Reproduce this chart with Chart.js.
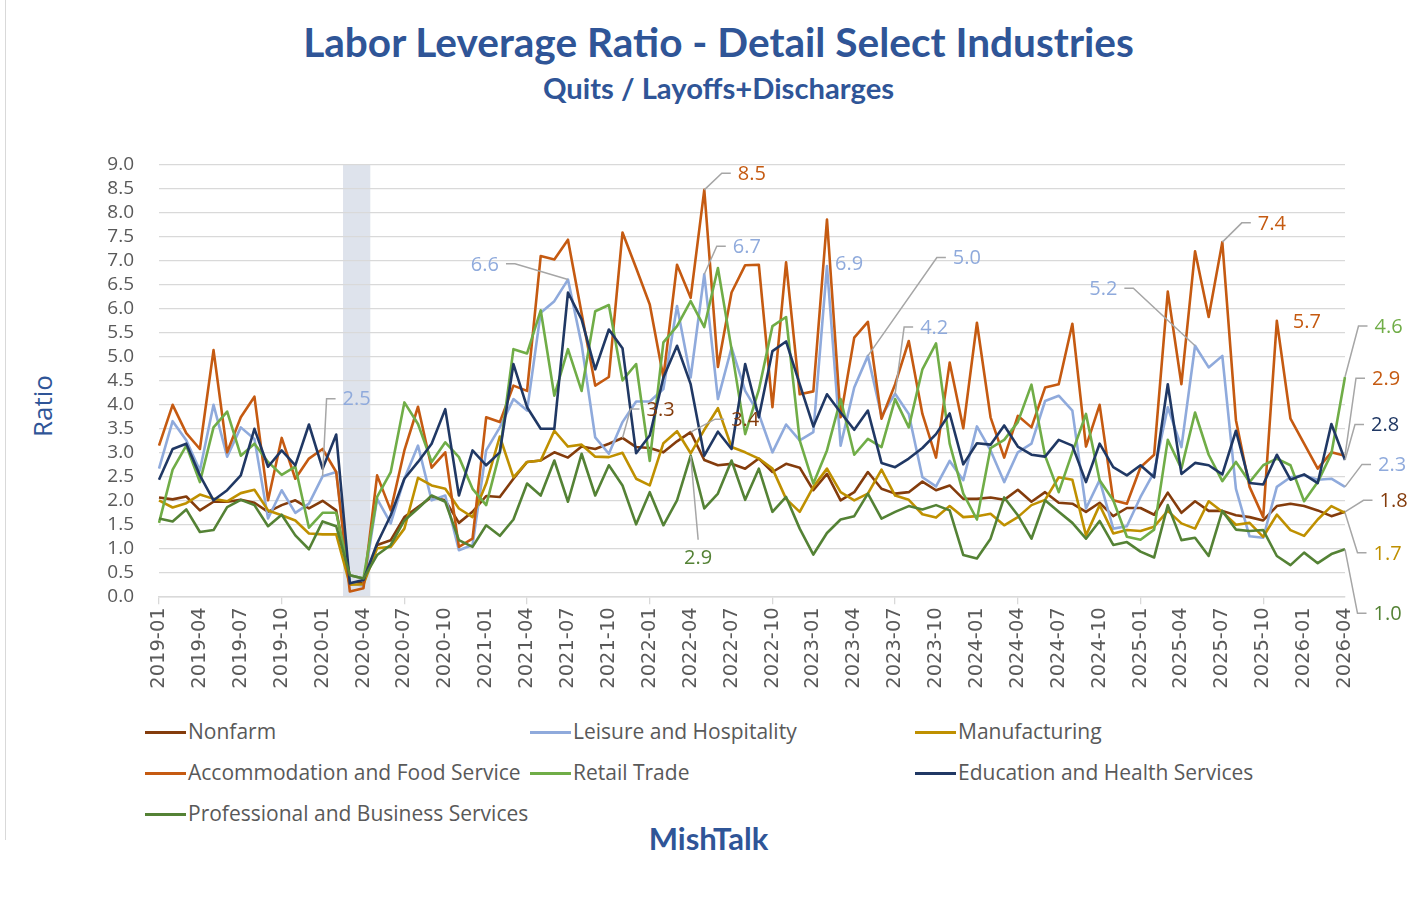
<!DOCTYPE html>
<html>
<head>
<meta charset="utf-8">
<script src="https://cdn.jsdelivr.net/npm/chart.js@4.4.0/dist/chart.umd.min.js"></script>
<style>
  body { margin: 0; background: #fff; }
  #wrap { position: relative; width: 1417px; height: 904px; overflow: hidden; font-family: "Open Sans", sans-serif; }
  #sheet { position: absolute; left: 5px; top: 0; width: 1px; height: 840px; background: #d9d9d9; }
  .title { position: absolute; left: 10px; width: 1417px; text-align: center; color: #2F5597; font-family: Lato, "Open Sans", sans-serif; font-weight: bold; }
  #t1 { top: 20px; line-height: 44px; font-size: 40.6px; }
  #t2 { top: 72px; line-height: 32px; font-size: 29.2px; }
  #ratio { position: absolute; left: 42px; top: 406px; transform: translate(-50%, -50%) rotate(-90deg); color: #2F5597; font-size: 26px; white-space: nowrap; }
  #box { position: absolute; left: 0; top: 128px; width: 1417px; height: 572px; }
  .leg { position: absolute; height: 30px; line-height: 30px; font-size: 21px; color: #595959; white-space: nowrap; }
  .leg span { display: inline-block; width: 41px; height: 3px; vertical-align: middle; margin-right: 2px; position: relative; top: -1px; }
  #mish { position: absolute; left: 0; width: 1417px; top: 820px; line-height: 36px; text-align: center; color: #2F5597; font-family: Lato, "Open Sans", sans-serif; font-weight: bold; font-size: 31px; }
</style>
</head>
<body>
<div id="wrap">
  <div id="sheet"></div>
  <div class="title" id="t1">Labor Leverage Ratio - Detail Select Industries</div>
  <div class="title" id="t2">Quits / Layoffs+Discharges</div>
  <div id="ratio">Ratio</div>
  <div id="box"><canvas id="chart"></canvas></div>
  <div id="legend"></div>
  <div id="mish">MishTalk</div>
</div>
<script>
// monthly categories 2019-01 .. 2026-04
const months = [];
for (let y = 2019; y <= 2026; y++) {
  for (let m = 1; m <= 12; m++) {
    if (y === 2026 && m > 4) break;
    months.push(y + '-' + String(m).padStart(2, '0'));
  }
}

const nonfarm = [2.06,2.02,2.08,1.79,1.97,1.97,2.01,1.95,1.76,1.9,2.0,1.83,1.99,1.79,0.27,0.28,
  1.07,1.17,1.65,1.86,2.07,2.0,1.53,1.76,2.09,2.07,2.45,2.8,2.83,3.0,
  2.89,3.12,3.07,3.18,3.3,3.11,3.09,3.0,3.23,3.42,2.84,2.73,2.76,2.66,2.87,
  2.59,2.76,2.68,2.21,2.55,2.0,2.17,2.59,2.24,2.14,2.17,2.39,2.21,2.31,
  2.03,2.03,2.06,2.01,2.22,1.97,2.17,1.95,1.93,1.76,1.95,1.67,1.84,1.84,1.7,
  2.16,1.74,1.98,1.78,1.78,1.69,1.65,1.58,1.88,1.93,1.88,1.79,1.67,1.76];

const leisure = [2.66,3.65,3.25,2.62,3.99,2.91,3.52,3.28,1.62,2.21,1.74,1.93,2.5,2.59,0.27,0.22,
  2.03,1.52,2.45,3.14,2.0,2.1,0.96,1.07,3.04,3.52,4.11,3.87,5.91,6.15,
  6.6,5.25,3.31,2.97,3.63,4.06,4.06,4.32,6.05,4.56,6.71,4.11,5.18,4.28,3.8,
  3.0,3.58,3.25,3.42,6.88,3.14,4.35,5.01,3.76,4.22,3.8,2.48,2.29,2.82,
  2.42,3.54,3.04,2.38,3.0,3.18,4.07,4.18,3.87,1.83,2.42,1.41,1.46,2.07,2.59,
  3.94,3.11,5.22,4.77,5.01,2.24,1.25,1.22,2.28,2.48,2.52,2.43,2.45,2.28];

const manufacturing = [2.0,1.85,1.94,2.12,2.03,1.98,2.15,2.22,1.79,1.69,1.58,1.31,1.29,1.29,0.24,0.25,
  1.0,1.03,1.41,2.47,2.31,2.24,1.83,1.65,2.35,3.33,2.48,2.8,2.83,3.45,
  3.12,3.16,2.91,2.9,2.99,2.45,2.31,3.19,3.44,2.98,3.47,3.92,3.11,3.0,2.87,
  2.66,2.03,1.76,2.28,2.66,2.17,2.0,2.14,2.64,2.1,2.01,1.71,1.64,1.88,
  1.65,1.67,1.72,1.48,1.65,1.9,2.01,2.48,2.43,1.27,1.9,1.31,1.38,1.36,1.45,
  1.78,1.52,1.41,1.98,1.76,1.49,1.53,1.24,1.7,1.38,1.26,1.6,1.88,1.74];

const accommodation = [3.14,3.99,3.4,3.07,5.13,3.0,3.73,4.16,2.0,3.3,2.45,2.87,3.07,2.59,0.1,0.17,
  2.52,1.79,3.04,3.95,2.68,3.0,1.03,1.2,3.73,3.63,4.39,4.28,7.09,7.02,
  7.43,5.9,4.39,4.57,7.58,6.84,6.08,4.56,6.91,6.22,8.47,4.78,6.33,6.9,6.91,
  3.94,6.96,4.21,4.27,7.85,3.73,5.39,5.72,3.7,4.42,5.32,3.8,2.89,4.87,
  3.5,5.7,3.73,2.89,3.76,3.52,4.35,4.42,5.68,3.12,3.99,2.0,1.93,2.69,2.95,
  6.35,4.42,7.19,5.82,7.38,3.67,2.28,1.65,5.74,3.7,3.18,2.66,3.0,2.93];

const retail = [1.53,2.64,3.14,2.38,3.52,3.85,2.93,3.18,2.8,2.53,2.7,1.43,1.74,1.74,0.44,0.37,
  2.07,2.59,4.04,3.59,2.8,3.21,2.9,2.24,1.9,3.0,5.15,5.06,5.96,4.18,
  5.15,4.28,5.94,6.07,4.5,4.84,2.82,5.29,5.63,6.15,5.61,6.84,5.15,3.38,4.3,
  5.63,5.82,3.25,2.35,3.04,4.11,2.95,3.28,3.11,4.11,3.52,4.73,5.27,3.18,
  2.14,1.6,3.09,3.26,3.63,4.41,2.93,2.17,3.0,3.8,2.42,2.0,1.24,1.18,1.39,
  3.26,2.66,3.83,2.95,2.4,2.8,2.38,2.73,2.87,2.73,1.98,2.38,2.97,4.57];

const education = [2.43,3.07,3.18,2.52,2.0,2.21,2.52,3.49,2.7,3.04,2.73,3.58,2.66,3.37,0.27,0.34,
  1.1,1.69,2.45,2.8,3.18,3.9,2.1,3.04,2.73,3.0,4.84,3.94,3.49,3.49,
  6.33,5.77,4.73,5.56,5.17,2.98,3.35,4.56,5.22,4.42,2.93,3.43,3.07,4.84,3.73,
  5.11,5.31,4.42,3.54,4.21,3.83,3.47,3.87,2.78,2.69,2.87,3.09,3.38,3.81,
  2.75,3.19,3.16,3.56,3.12,2.95,2.91,3.26,3.14,2.38,3.18,2.69,2.52,2.73,2.48,
  4.42,2.55,2.78,2.73,2.54,3.45,2.36,2.33,2.95,2.43,2.54,2.36,3.59,2.84];

const professional = [1.62,1.56,1.81,1.34,1.38,1.86,2.01,1.9,1.46,1.7,1.27,0.98,1.56,1.46,0.44,0.37,
  0.86,1.07,1.58,1.83,2.1,1.97,1.17,1.03,1.48,1.26,1.6,2.35,2.1,2.83,
  1.97,2.97,2.1,2.73,2.31,1.5,2.17,1.48,2.0,2.93,1.83,2.14,2.83,2.01,2.66,
  1.76,2.07,1.41,0.87,1.32,1.6,1.67,2.14,1.62,1.76,1.88,1.81,1.9,1.79,
  0.86,0.79,1.2,2.06,1.69,1.2,2.0,1.76,1.53,1.2,1.57,1.07,1.13,0.93,0.81,
  1.9,1.17,1.22,0.84,1.78,1.39,1.36,1.38,0.84,0.65,0.91,0.69,0.88,0.98];

const seriesNames = ['Nonfarm', 'Leisure and Hospitality', 'Manufacturing',
  'Accommodation and Food Service', 'Retail Trade', 'Education and Health Services',
  'Professional and Business Services'];
const seriesData = [nonfarm, leisure, manufacturing, accommodation, retail, education, professional];
const seriesColors = ['#843C0C', '#8FAADC', '#BF9000', '#C55A11', '#70AD47', '#203864', '#548235'];

// recession shading: 2020-03 .. 2020-04
const shadeFrom = '2020-03';
const shadeTo = '2020-04';

// callouts: [dataset, month, elbow dx, elbow dy, side]  side 1 = right, -1 = left, 0 = below, null = no leader
const callouts = [
  [1, '2020-01', 4, -77.6, 1],
  [1, '2021-07', -53, -15.7, -1],
  [3, '2022-05', 17.5, -16.6, 1],
  [1, '2022-05', 12.5, -28, 1],
  [0, '2021-11', 8, -29, 1],
  [0, '2022-04', 24.5, -13, 1],
  [6, '2022-04', 7.5, 84, 0],
  [1, '2023-02', 8, -2, null],
  [1, '2023-05', 69, -98.3, 1],
  [1, '2023-07', 9, -66.7, 1],
  [1, '2025-05', -61.7, -57.6, -1],
  [3, '2025-07', 19.5, -19.3, 1],
  [3, '2025-11', 16, 1, null],
  [4, '2026-04', 13.5, -51, 1],
  [3, '2026-04', 11, -77.5, 1],
  [5, '2026-04', 10, -35.5, 1],
  [1, '2026-04', 17, -22.5, 1],
  [0, '2026-04', 18.5, -11.5, 1],
  [2, '2026-04', 12.5, 40, 1],
  [6, '2026-04', 12.5, 64, 1]
];

const shadePlugin = {
  id: 'shade',
  beforeDraw(chart) {
    const x = chart.scales.x, area = chart.chartArea, ctx = chart.ctx;
    const i0 = months.indexOf(shadeFrom), i1 = months.indexOf(shadeTo);
    const step = x.getPixelForValue(1) - x.getPixelForValue(0);
    const left = x.getPixelForValue(i0) - step / 2;
    const right = x.getPixelForValue(i1) + step / 2;
    ctx.save();
    ctx.fillStyle = '#DEE3EC';
    ctx.fillRect(left, area.top, right - left, area.bottom - area.top);
    ctx.restore();
  }
};

const calloutPlugin = {
  id: 'callouts',
  afterDatasetsDraw(chart) {
    const ctx = chart.ctx;
    ctx.save();
    ctx.font = '20px "Open Sans"';
    ctx.textBaseline = 'middle';
    ctx.lineWidth = 1.5;
    ctx.strokeStyle = '#A6A6A6';
    callouts.forEach(c => {
      const [d, m, ex, ey, side] = c;
      const i = months.indexOf(m);
      const pt = chart.getDatasetMeta(d).data[i];
      const txt = seriesData[d][i].toFixed(1);
      ctx.fillStyle = seriesColors[d];
      if (side === null) {
        ctx.textAlign = 'left';
        ctx.fillText(txt, pt.x + ex, pt.y + ey);
        return;
      }
      const bx = pt.x + ex, by = pt.y + ey;
      ctx.beginPath();
      ctx.moveTo(pt.x, pt.y);
      ctx.lineTo(bx, by);
      if (side !== 0) ctx.lineTo(bx + side * 9, by);
      ctx.stroke();
      if (side === 0) {
        ctx.textAlign = 'center';
        ctx.fillText(txt, bx, by + 19);
      } else {
        ctx.textAlign = side > 0 ? 'left' : 'right';
        ctx.fillText(txt, bx + side * 16, by + 1);
      }
    });
    ctx.restore();
  }
};

const datasets = seriesNames.map((name, k) => ({
  label: name,
  data: seriesData[k],
  borderColor: seriesColors[k],
  backgroundColor: seriesColors[k],
  borderWidth: 2.6,
  pointRadius: 0,
  tension: 0,
  borderJoinStyle: 'round',
  order: seriesNames.length - k
}));

const chart = new Chart(document.getElementById('chart'), {
  type: 'line',
  data: { labels: months, datasets: datasets },
  options: {
    responsive: true,
    maintainAspectRatio: false,
    animation: false,
    layout: { padding: { top: 10.4, right: 72, left: 0, bottom: 0 } },
    plugins: {
      legend: { display: false },
      title: { display: false },
      tooltip: { mode: 'index', intersect: false }
    },
    scales: {
      x: {
        offset: false,
        afterFit: s => { s.height = 103.7; },
        grid: {
          drawOnChartArea: false,
          tickLength: 8,
          lineWidth: 1.3,
          color: c => (c.index % 3 === 0 ? '#D9D9D9' : 'rgba(0,0,0,0)')
        },
        border: { color: '#D9D9D9', width: 1.5 },
        ticks: {
          autoSkip: false,
          maxRotation: 90,
          minRotation: 90,
          padding: 3,
          color: '#595959',
          font: { family: 'DejaVu Sans', size: 19.5 },
          callback: (v, i) => (i % 3 === 0 ? months[i] : null)
        }
      },
      y: {
        min: 0,
        max: 9,
        afterFit: s => { s.width = 159; },
        border: { display: false },
        grid: { color: '#D9D9D9', lineWidth: 1.3, drawTicks: false },
        ticks: {
          stepSize: 0.5,
          autoSkip: false,
          padding: 25,
          color: '#595959',
          font: { family: 'Open Sans', size: 19 },
          callback: v => v.toFixed(1)
        }
      }
    }
  },
  plugins: [shadePlugin, calloutPlugin]
});

// legend built from the chart datasets
const legendPos = [[145, 731], [530, 731], [915, 731], [145, 772], [530, 772], [915, 772], [145, 813]];
const legendEl = document.getElementById('legend');
chart.data.datasets.forEach((ds, k) => {
  const item = document.createElement('div');
  item.className = 'leg';
  item.style.left = legendPos[k][0] + 'px';
  item.style.top = (legendPos[k][1] - 15) + 'px';
  item.innerHTML = '<span style="background:' + ds.borderColor + '"></span>' + ds.label;
  legendEl.appendChild(item);
});
</script>
</body>
</html>
